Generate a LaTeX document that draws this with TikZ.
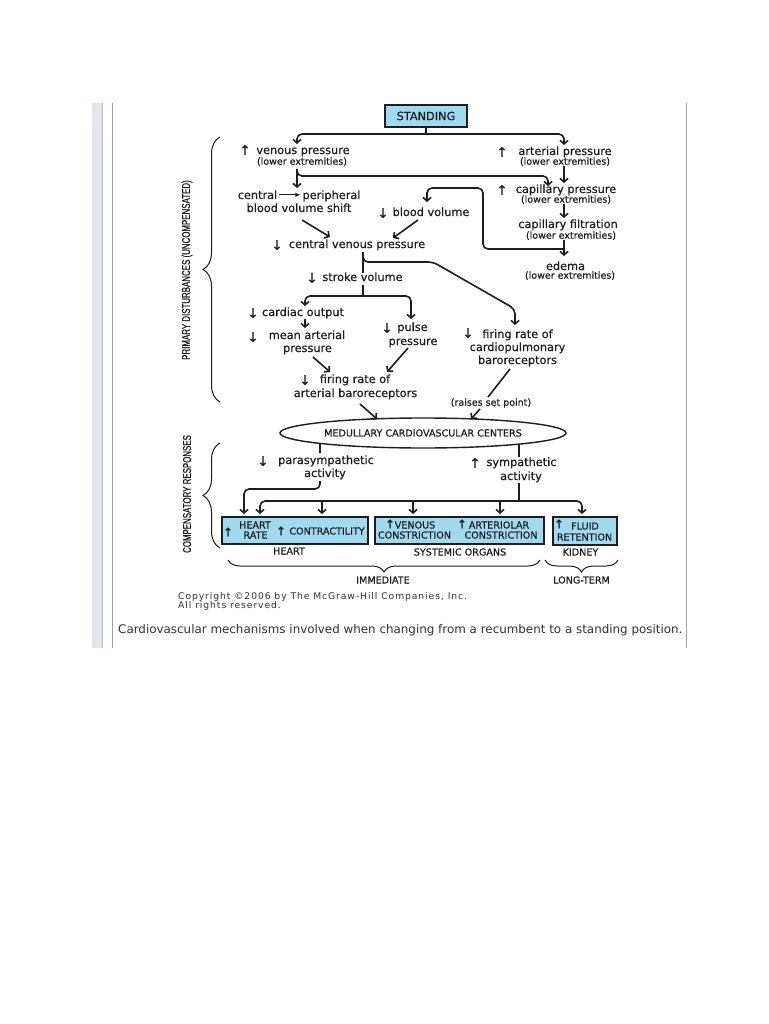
\documentclass[tikz,border=0pt]{standalone}
\usepackage{fontspec}
\usepackage{graphicx}
\setmainfont{DejaVu Sans}
\newfontfamily\DiaFont[FakeBold=0.5]{DejaVu Sans}
\newfontfamily\LibSans[FakeBold=0.8]{Liberation Sans}
\newfontfamily\CopyFont[LetterSpace=10]{DejaVu Sans}
\usetikzlibrary{arrows.meta,decorations.pathreplacing,shapes.geometric}
\definecolor{ink}{RGB}{30,30,30}
\definecolor{boxblue}{RGB}{160,217,240}
\definecolor{band}{RGB}{226,229,235}
\definecolor{bandedge}{RGB}{180,184,190}
\definecolor{framegray}{RGB}{160,160,160}
\definecolor{captxt}{RGB}{50,50,50}
\newcommand\FtMain{\DiaFont\fontsize{11.3}{13.5}\selectfont}
\newcommand\FtSub{\DiaFont\fontsize{9.5}{11}\selectfont}
\newcommand\FtCaps{\DiaFont\fontsize{9.6}{10.5}\selectfont}
\newcommand\FtSym{\DiaFont\fontsize{13.5}{14}\selectfont}
\newcommand\FtSymS{\DiaFont\fontsize{12}{12}\selectfont}
\begin{document}
\begin{tikzpicture}[x=1pt,y=-1pt,
  txt/.style={anchor=base, inner sep=0pt, font=\FtMain, text=ink},
  sub/.style={anchor=base, inner sep=0pt, font=\FtSub, text=ink},
  caps/.style={anchor=base, inner sep=0pt, font=\FtCaps, text=ink},
  sym/.style={inner sep=0pt, font=\FtSym, text=ink},
  syms/.style={inner sep=0pt, font=\FtSymS, text=ink},
  conn/.style={draw=ink, line width=1.6pt, rounded corners=5pt, -{Straight Barb[length=3.5pt,width=8pt]}},
  plain/.style={draw=ink, line width=1.6pt, rounded corners=5pt},
  bluebox/.style={draw=ink, line width=1.2pt, fill=boxblue, inner sep=0pt},
  brc/.style={draw=ink, line width=1pt, decorate, decoration={brace, amplitude=#1}},
  sidelab/.style={rotate=90, inner sep=0pt, text=ink}
]
\useasboundingbox (0,0) rectangle (768,1024);
\fill[white] (0,0) rectangle (768,1024);

% frame
\fill[band] (92,103) rectangle (102,648);
\draw[bandedge, line width=1pt] (102,103) -- (102,648);
\draw[framegray, line width=1pt] (112,103) -- (112,648);
\draw[framegray, line width=1pt] (686,103) -- (686,648);

% top
\node[bluebox, minimum width=82, minimum height=22, font=\DiaFont\fontsize{11.3}{12}\selectfont, text=ink] (stand) at (426,116) {STANDING};

\node[sym] (uvp) at (245,150) {↑};
\node[txt] (vp) at (303,154) {venous pressure};
\node[sub] (vpl) at (302,164.7) {(lower extremities)};
\node[sym] (uap) at (502,152) {↑};
\node[txt] (ap) at (565,155) {arterial pressure};
\node[sub] (apl) at (565,164.7) {(lower extremities)};
\node[sym] (ucp) at (502,190) {↑};
\node[txt] (cp) at (566,193) {capillary pressure};
\node[sub] (cpl) at (566,202.7) {(lower extremities)};
\node[txt] (cf) at (568,228) {capillary filtration};
\node[sub] (cfl) at (571,238.7) {(lower extremities)};
\node[txt] (ed) at (565.5,270) {edema};
\node[sub] (edl) at (570,278.7) {(lower extremities)};
\node[txt] (cen) at (257.5,199) {central};
\node[txt] (per) at (331.5,199) {peripheral};
\node[txt] (bvs) at (299,212) {blood volume shift};
\node[sym] (dbv) at (383,213) {↓};
\node[txt] (bv) at (431,216) {blood volume};
\node[sym] (dcvp) at (277,245) {↓};
\node[txt] (cvp) at (357,248) {central venous pressure};
\node[sym] (dsv) at (312,278) {↓};
\node[txt] (sv) at (362.5,281) {stroke volume};
\node[sym] (dco) at (253,313) {↓};
\node[txt] (co) at (303,316) {cardiac output};
\node[sym] (dmap) at (253,337) {↓};
\node[txt] (map1) at (307,339) {mean arterial};
\node[txt] (map2) at (307.5,352) {pressure};
\node[sym] (dpp) at (387,328) {↓};
\node[txt] (pp1) at (412.5,331) {pulse};
\node[txt] (pp2) at (413,345) {pressure};
\node[sym] (dfa) at (305,380) {↓};
\node[txt] (fa1) at (355,383) {firing rate of};
\node[txt] (fa2) at (355.5,397) {arterial baroreceptors};
\node[sym] (dfc) at (468,333) {↓};
\node[txt] (fc1) at (517.5,338) {firing rate of};
\node[txt] (fc2) at (517.5,351) {cardiopulmonary};
\node[txt] (fc3) at (517.5,364) {baroreceptors};
\node[sub] (rsp) at (491,405.7) {(raises set point)};
\node[draw=ink, line width=1.4pt, ellipse, minimum width=286, minimum height=30, inner sep=0pt, font=\FtCaps, text=ink] (med) at (423,433) {MEDULLARY CARDIOVASCULAR CENTERS};
\node[sym] (dpa) at (263,461) {↓};
\node[txt] (pa1) at (326,464) {parasympathetic};
\node[txt] (pa2) at (325,477) {activity};
\node[sym] (usy) at (475,463) {↑};
\node[txt] (sy1) at (521.5,466) {sympathetic};
\node[txt] (sy2) at (521,480) {activity};

% effector boxes
\node[bluebox, minimum width=146, minimum height=27] (bheart) at (295,530.5) {};
\node[bluebox, minimum width=169, minimum height=27] (bsys) at (459.5,530.5) {};
\node[bluebox, minimum width=64, minimum height=28] (bkid) at (585,531) {};
\node[syms] (uhr) at (228,532) {↑};
\node[caps] (hr1) at (255,528.5) {HEART};
\node[caps] (hr2) at (255.5,538.5) {RATE};
\node[syms] (uct) at (281,531) {↑};
\node[caps] (ct) at (327,534.5) {CONTRACTILITY};
\node[syms] (uvc) at (390,524) {↑};
\node[caps] (vc1) at (415,528.5) {VENOUS};
\node[caps] (vc2) at (414.5,538.5) {CONSTRICTION};
\node[syms] (uac) at (462,524) {↑};
\node[caps] (ac1) at (499,528.5) {ARTERIOLAR};
\node[caps] (ac2) at (501,538.5) {CONSTRICTION};
\node[syms] (ufr) at (559,524) {↑};
\node[caps] (fr1) at (585,529.5) {FLUID};
\node[caps] (fr2) at (584.5,540.5) {RETENTION};
\node[caps] (lheart) at (289,554.5) {HEART};
\node[caps] (lsys) at (460,555.5) {SYSTEMIC ORGANS};
\node[caps] (lkid) at (580.5,555.5) {KIDNEY};
\node[caps] (limm) at (383,583.5) {IMMEDIATE};
\node[caps] (llong) at (581.5,583.5) {LONG-TERM};

% side labels
\node[sidelab] (lprim) at (187,270) {\scalebox{0.7}[1]{\LibSans\fontsize{11.3}{13}\selectfont PRIMARY DISTURBANCES (UNCOMPENSATED)}};
\node[sidelab] (lcomp) at (187,494) {\scalebox{0.7}[1]{\LibSans\fontsize{11.3}{13}\selectfont COMPENSATORY RESPONSES}};

% braces
\draw[brc=17pt] (220,402) -- (220,137);
\draw[brc=17pt] (220,548) -- (220,443);
\draw[brc=12pt] (540,560) -- (228,560);
\draw[brc=12pt] (618,560) -- (545,560);

% copyright and caption
\node[anchor=base west, inner sep=0pt, font=\CopyFont\fontsize{9.2}{10}\selectfont, text=captxt] (copy1) at (178,599.5) {Copyright ©2006 by The McGraw-Hill Companies, Inc.};
\node[anchor=base west, inner sep=0pt, font=\CopyFont\fontsize{9.2}{10}\selectfont, text=captxt] (copy2) at (178,608.5) {All rights reserved.};
\node[anchor=base west, inner sep=0pt, font=\fontsize{11.9}{13}\selectfont, text=captxt] (capt) at (118,633.3) {Cardiovascular mechanisms involved when changing from a recumbent to a standing position.};

% ---- connectors ----
\coordinate (jst) at (426,134);
\coordinate (tvp) at (297,144);
\coordinate (tap) at (564,145);
\draw[plain] (stand.south) -- (jst);
\draw[conn] (jst) -| (tvp);
\draw[conn] (jst) -| (tap);

\coordinate (jvp) at (297,169);
\coordinate (tcps) at (297,188);
\coordinate (tcp2) at (548,186);
\draw[conn] (jvp) -- (tcps);
\draw[conn] (jvp) -- (297,176) -- (548,176) -- (tcp2);

\coordinate (tcp1) at (564,183);
\coordinate (tcf) at (564,218);
\coordinate (ted) at (564,256);
\draw[conn] (apl.south -| tcp1) -- (tcp1);
\draw[conn] (cpl.south -| tcf) -- (tcf);
\draw[conn] (cfl.south -| ted) -- (ted);

\coordinate (jbv) at (564,249);
\coordinate (tbv) at (427,202);
\draw[conn] (jbv) -- (483,249) -- (483,188) -- (427,188) -- (tbv);

\coordinate (sbv) at (418,220);
\coordinate (tcvp1) at (393,238);
\draw[conn] (sbv) -- (tcvp1);
\coordinate (sbvs) at (302,220);
\coordinate (tcvp2) at (330,237);
\draw[conn] (sbvs) -- (tcvp2);

\coordinate (scvp) at (363,252);
\coordinate (tfc) at (515,325);
\draw[plain] (scvp) -- (363,273);
\draw[conn] (363,254) -- (363,262) -- (433,262) -- (515,309) -- (tfc);

\coordinate (jsv) at (363,296);
\coordinate (tco) at (305,306);
\coordinate (tpp) at (411,319);
\draw[plain] (363,285) -- (jsv);
\draw[conn] (jsv) -| (tco);
\draw[conn] (jsv) -| (tpp);

\coordinate (tmap) at (305,328);
\draw[conn] (co.south -| tmap) -- (tmap);
\coordinate (smap) at (313,357);
\coordinate (tfa1) at (330,372);
\draw[conn] (smap) -- (tfa1);
\coordinate (spp) at (408,348);
\coordinate (tfa2) at (387,372);
\draw[conn] (spp) -- (tfa2);

\coordinate (sfc) at (510,369);
\coordinate (ersp) at (488,397);
\draw[plain] (sfc) -- (ersp);
\coordinate (srsp) at (480,409);
\coordinate (tmed2) at (471,419);
\draw[conn] (srsp) -- (tmed2);
\coordinate (sfa) at (360,404);
\coordinate (tmed1) at (377,419);
\draw[conn] (sfa) -- (tmed1);

\coordinate (emp) at (320,443.5);
\draw[plain] (emp) -- (320,453);
\coordinate (spa) at (320,481);
\coordinate (th1) at (244,514);
\draw[conn] (spa) |- (244,489) -- (th1);

\coordinate (ems) at (519,444);
\draw[plain] (ems) -- (519,457);
\coordinate (ssy) at (519,483);
\coordinate (jsy) at (519,501);
\coordinate (th2) at (260,514);
\coordinate (tk) at (582,514);
\draw[plain] (ssy) -- (jsy);
\draw[conn] (jsy) -| (th2);
\draw[conn] (jsy) -| (tk);
\coordinate (tct) at (322,514);
\coordinate (tvc) at (413,514);
\coordinate (tac) at (500,514);
\draw[conn] (tct |- jsy) -- (tct);
\draw[conn] (tvc |- jsy) -- (tvc);
\draw[conn] (tac |- jsy) -- (tac);

\draw[ink, line width=1pt, -{Latex[length=5pt,width=4.5pt]}] ([xshift=2]cen.east) -- ([xshift=-2]cen.east -| per.west);
\end{tikzpicture}
\end{document}
